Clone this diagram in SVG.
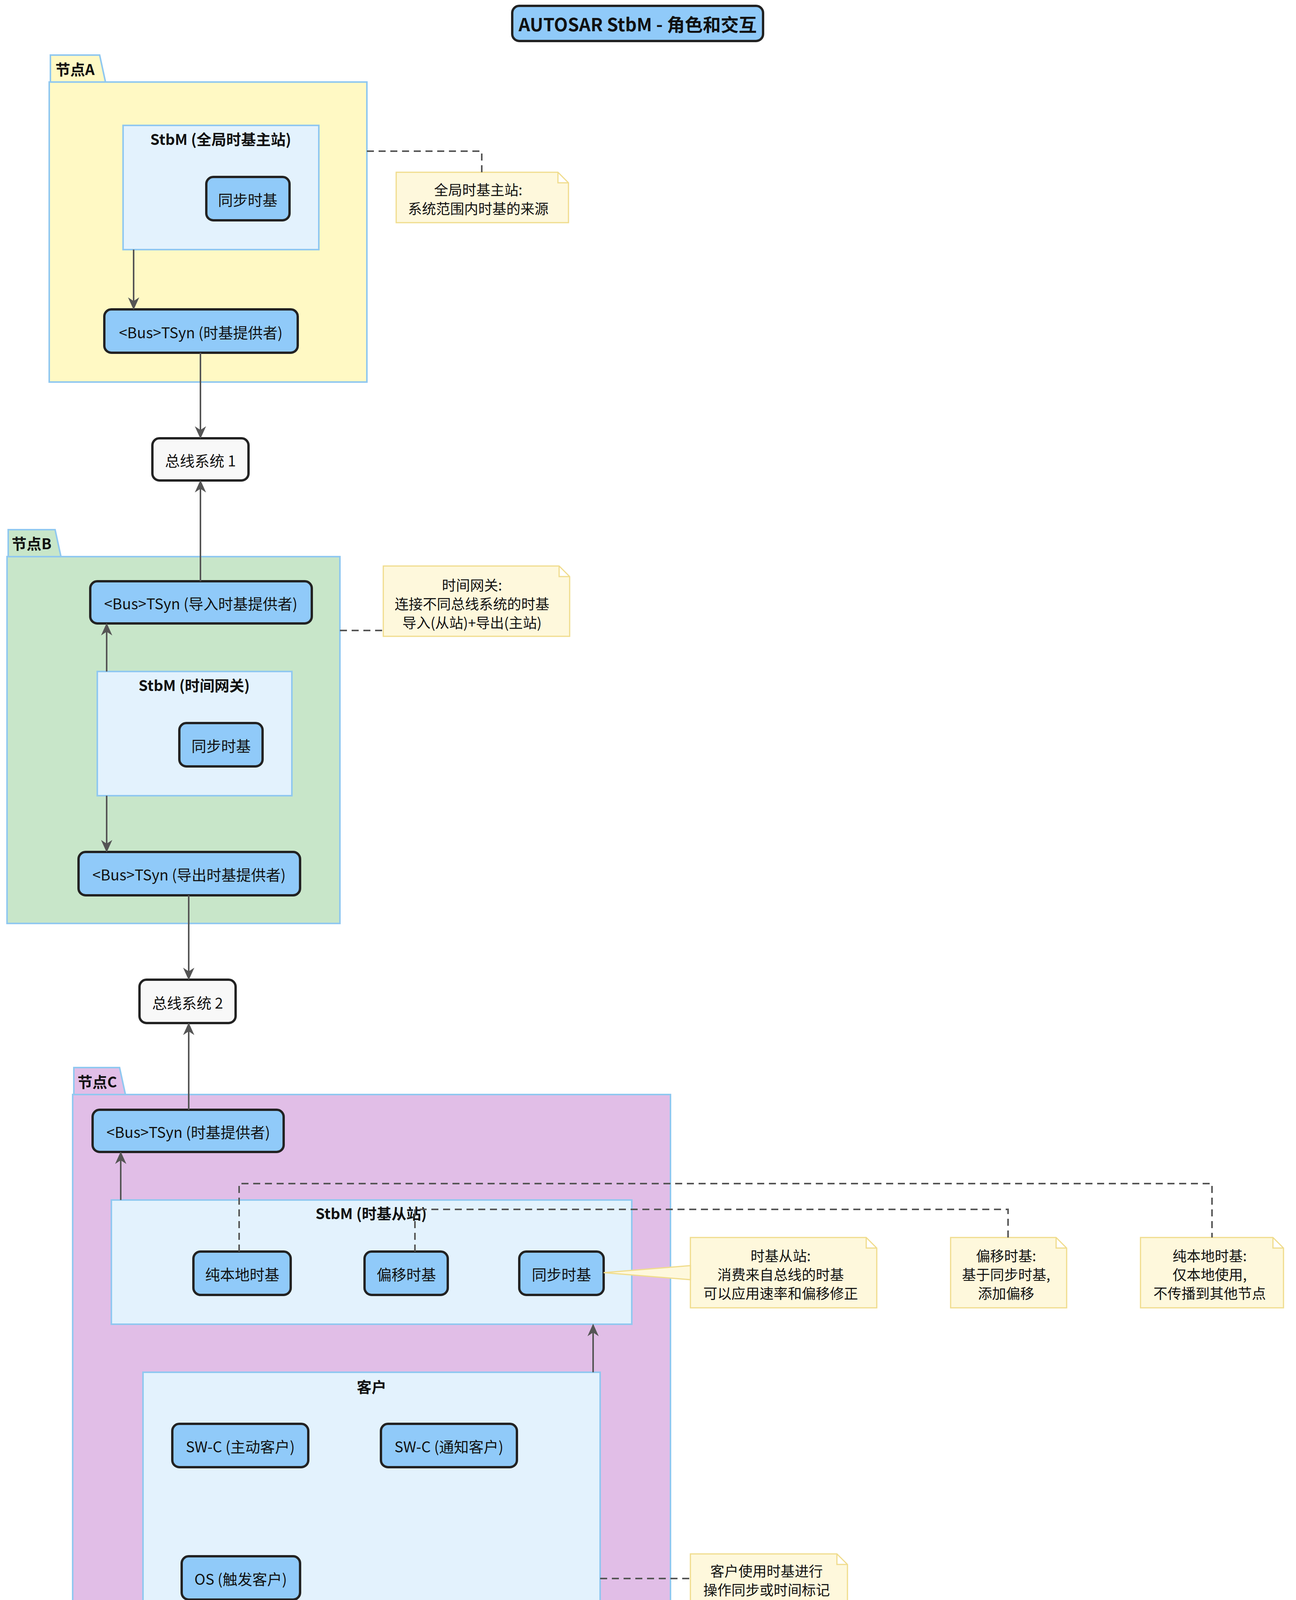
<svg xmlns="http://www.w3.org/2000/svg" width="3317" height="4724" viewBox="0 0 3317 4724">
<defs>
<style>
text{font-family:"Noto Sans CJK SC","Noto Sans",sans-serif;fill:#111;text-anchor:middle;dominant-baseline:central}
.pkg{stroke:#90c8f0;stroke-width:4}
.inner{fill:#e3f2fd;stroke:#90c8f0;stroke-width:4}
.btn{fill:#90caf9;stroke:#222;stroke-width:6}
.bus{fill:#f8f8f8;stroke:#222;stroke-width:6}
.note{fill:#fef8dc;stroke:#f0dc8c;stroke-width:3}
.t{font-size:38px}
.b{font-size:38px;font-weight:bold}
.n{font-size:36px}
.ln{stroke:#555;stroke-width:4;fill:none}
.dash{stroke:#555;stroke-width:4;fill:none;stroke-dasharray:18,12}
</style>
<marker id="ah" viewBox="0 0 20 20" refX="18" refY="10" markerWidth="32" markerHeight="32" orient="auto" markerUnits="userSpaceOnUse"><path d="M0,1 L20,10 L0,19 L6,10 Z" fill="#555"/></marker>
</defs>
<rect width="3317" height="4724" fill="#fff"/>

<g id="title"><rect x="1311" y="15" width="642" height="90" rx="18" fill="#90caf9" stroke="#222" stroke-width="6"/><text x="1632" y="60" style="font-size:46px;font-weight:bold">AUTOSAR StbM - 角色和交互</text></g>

<g id="nodeA">
<path d="M129,141 L255,141 L270,210 L129,210 Z" fill="#fff9c4" class="pkg"/>
<rect x="126" y="210" width="813" height="768" fill="#fff9c4" class="pkg"/>
<text x="192" y="175" class="b">节点A</text>
<rect x="315" y="321" width="501" height="318" class="inner"/>
<text x="565" y="354" class="b">StbM (全局时基主站)</text>
<rect x="528" y="453" width="213" height="111" rx="18" class="btn"/><text x="634" y="509" class="t">同步时基</text>
<rect x="267" y="792" width="495" height="111" rx="18" class="btn"/><text x="514" y="849" class="t">&lt;Bus&gt;TSyn (时基提供者)</text>
</g>

<g id="bus1"><rect x="390" y="1122" width="246" height="108" rx="18" class="bus"/><text x="513" y="1177" class="t">总线系统 1</text></g>

<g id="nodeB">
<path d="M21,1356 L141,1356 L156,1425 L21,1425 Z" fill="#c8e6c9" class="pkg"/>
<rect x="18" y="1425" width="852" height="939" fill="#c8e6c9" class="pkg"/>
<text x="81" y="1389" class="b">节点B</text>
<rect x="231" y="1488" width="567" height="108" rx="18" class="btn"/><text x="514" y="1543" class="t">&lt;Bus&gt;TSyn (导入时基提供者)</text>
<rect x="249" y="1719" width="498" height="318" class="inner"/>
<text x="497" y="1752" class="b">StbM (时间网关)</text>
<rect x="459" y="1851" width="213" height="111" rx="18" class="btn"/><text x="566" y="1907" class="t">同步时基</text>
<rect x="201" y="2181" width="567" height="111" rx="18" class="btn"/><text x="484" y="2237" class="t">&lt;Bus&gt;TSyn (导出时基提供者)</text>
</g>

<g id="bus2"><rect x="357" y="2508" width="246" height="111" rx="18" class="bus"/><text x="480" y="2565" class="t">总线系统 2</text></g>

<g id="nodeC">
<path d="M189,2733 L306,2733 L321,2802 L189,2802 Z" fill="#e1bee7" class="pkg"/>
<rect x="186" y="2802" width="1530" height="1464" fill="#e1bee7" class="pkg"/>
<text x="249" y="2767" class="b">节点C</text>
<rect x="237" y="2841" width="489" height="108" rx="18" class="btn"/><text x="482" y="2896" class="t">&lt;Bus&gt;TSyn (时基提供者)</text>
<rect x="285" y="3072" width="1332" height="318" class="inner"/>
<text x="950" y="3104" class="b">StbM (时基从站)</text>
<rect x="495" y="3204" width="249" height="111" rx="18" class="btn"/><text x="620" y="3260" class="t">纯本地时基</text>
<rect x="933" y="3204" width="213" height="111" rx="18" class="btn"/><text x="1040" y="3260" class="t">偏移时基</text>
<rect x="1329" y="3204" width="216" height="111" rx="18" class="btn"/><text x="1437" y="3260" class="t">同步时基</text>
<rect x="366" y="3513" width="1170" height="654" class="inner"/>
<text x="951" y="3548" class="b">客户</text>
<rect x="441" y="3645" width="348" height="111" rx="18" class="btn"/><text x="615" y="3701" class="t">SW-C (主动客户)</text>
<rect x="975" y="3645" width="348" height="111" rx="18" class="btn"/><text x="1149" y="3701" class="t">SW-C (通知客户)</text>
<rect x="465" y="3984" width="303" height="111" rx="18" class="btn"/><text x="616" y="4040" class="t">OS (触发客户)</text>
</g>

<g id="notes">
<path d="M1014,441 L1428,441 L1455,468 L1455,570 L1014,570 Z M1428,441 L1428,468 L1455,468" class="note"/>
<text x="1224" y="484" class="n">全局时基主站:</text><text x="1224" y="532" class="n">系统范围内时基的来源</text>
<path d="M981,1449 L1431,1449 L1458,1476 L1458,1629 L981,1629 Z M1431,1449 L1431,1476 L1458,1476" class="note"/>
<text x="1208" y="1496" class="n">时间网关:</text><text x="1208" y="1544" class="n">连接不同总线系统的时基</text><text x="1208" y="1592" class="n">导入(从站)+导出(主站)</text>
<path d="M1767,3168 L2217,3168 L2244,3195 L2244,3348 L1767,3348 Z M2217,3168 L2217,3195 L2244,3195" class="note"/>
<text x="1998" y="3213" class="n">时基从站:</text><text x="1998" y="3261" class="n">消费来自总线的时基</text><text x="1998" y="3309" class="n">可以应用速率和偏移修正</text>
<path d="M1545,3258 L1767,3240 L1767,3276 Z" fill="#fef8dc" stroke="#f0dc8c" stroke-width="3"/>
<path d="M2433,3168 L2703,3168 L2730,3195 L2730,3348 L2433,3348 Z M2703,3168 L2703,3195 L2730,3195" class="note"/>
<text x="2575" y="3213" class="n">偏移时基:</text><text x="2575" y="3261" class="n">基于同步时基,</text><text x="2575" y="3309" class="n">添加偏移</text>
<path d="M2919,3168 L3258,3168 L3285,3195 L3285,3348 L2919,3348 Z M3258,3168 L3258,3195 L3285,3195" class="note"/>
<text x="3096" y="3213" class="n">纯本地时基:</text><text x="3096" y="3261" class="n">仅本地使用,</text><text x="3096" y="3309" class="n">不传播到其他节点</text>
<path d="M1767,3978 L2142,3978 L2169,4005 L2169,4104 L1767,4104 Z M2142,3978 L2142,4005 L2169,4005" class="note"/>
<text x="1962" y="4020" class="n">客户使用时基进行</text><text x="1962" y="4068" class="n">操作同步或时间标记</text>
</g>

<g id="connectors">
<path d="M342,639 L342,790" class="ln" marker-end="url(#ah)"/>
<path d="M513,903 L513,1120" class="ln" marker-end="url(#ah)"/>
<path d="M513,1488 L513,1232" class="ln" marker-end="url(#ah)"/>
<path d="M273,1719 L273,1598" class="ln" marker-end="url(#ah)"/>
<path d="M273,2037 L273,2179" class="ln" marker-end="url(#ah)"/>
<path d="M483,2292 L483,2506" class="ln" marker-end="url(#ah)"/>
<path d="M483,2841 L483,2621" class="ln" marker-end="url(#ah)"/>
<path d="M309,3072 L309,2951" class="ln" marker-end="url(#ah)"/>
<path d="M1518,3513 L1518,3392" class="ln" marker-end="url(#ah)"/>
<path d="M939,387 L1233,387 L1233,441" class="dash"/>
<path d="M870,1614 L981,1614" class="dash"/>
<path d="M1536,4041 L1767,4041" class="dash"/>
<path d="M1062,3204 L1062,3096 L2580,3096 L2580,3168" class="dash"/>
<path d="M612,3204 L612,3030 L3102,3030 L3102,3168" class="dash"/>
</g>

<g id="legend">
<rect x="2616" y="4326" width="609" height="318" rx="24" fill="#fff" stroke="#222" stroke-width="4"/>
<text x="2920" y="4376" style="font-size:46px;font-weight:bold">AUTOSAR StbM系统角色</text>
<text x="2920" y="4433" style="font-size:44px">——→ 时基传递方向</text>
<text x="2920" y="4490" style="font-size:44px">时基主站(Master): 时基来源</text>
<text x="2920" y="4547" style="font-size:44px">时间网关(Gateway): 时基中继</text>
<text x="2920" y="4604" style="font-size:44px">时基从站(Slave): 时基消费者</text>
</g>
</svg>
